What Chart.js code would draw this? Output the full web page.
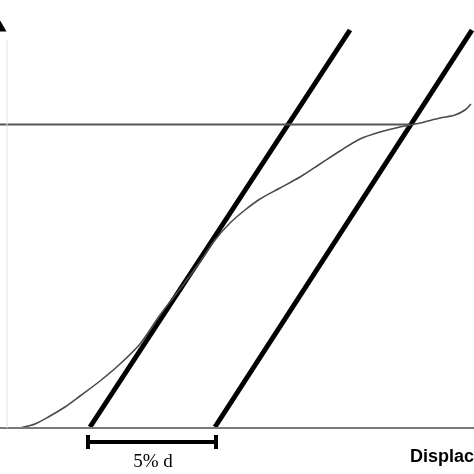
<!DOCTYPE html>
<html>
<head>
<meta charset="utf-8">
<script src="https://cdn.jsdelivr.net/npm/chart.js@4/dist/chart.umd.min.js"></script>
<style>
  html, body { margin: 0; padding: 0; background: #fff; }
  #wrap { width: 474px; height: 474px; }
</style>
</head>
<body>
<div id="wrap"><canvas id="chart" width="474" height="474"></canvas></div>
<script>
/* ---------- data (displacement, load) ---------- */
var CURVE_X = [20, 35, 50, 65, 80, 100, 120, 140, 160, 180, 200, 215, 230, 245, 260, 280, 300, 320, 340, 360, 380, 400, 420, 440, 455, 465, 471];
var CURVE_Y = [0, 4, 12, 21, 32, 47, 64, 84, 113, 139, 166, 188, 205, 218, 229, 240, 251, 264, 277, 289, 296, 301, 305, 310, 313, 318, 324];

var ELASTIC_X = [90, 350];
var ELASTIC_Y = [1, 398];
var OFFSET_X = [215, 472];
var OFFSET_Y = [1, 398];

var LIMIT_X = [0, 410];
var LIMIT_Y = [303.5, 303.5];

var BASE_X = [0, 474];
var BASE_Y = [0, 0];
var YAXIS_X = [7, 7];
var YAXIS_Y = [0, 388];

var BRACKET_X = [88, 88, 88, 216, 216, 216];
var BRACKET_Y = [-7, -21, -14, -14, -7, -21];

var LABELS = [
  { text: "5% d", x: 153, y: -39, font: '19px "Liberation Serif", serif', align: "center" },
  { text: "Displac", x: 410, y: -34, font: 'bold 18px "Liberation Sans", Arial, sans-serif', align: "left" }
];

function pts(xs, ys) {
  return xs.map(function (x, i) { return { x: x, y: ys[i] }; });
}

function line(xs, ys, color, width, extra) {
  var ds = {
    data: pts(xs, ys),
    borderColor: color,
    borderWidth: width,
    pointRadius: 0,
    showLine: true,
    fill: false,
    tension: 0
  };
  for (var k in extra) ds[k] = extra[k];
  return ds;
}

/* ---------- text labels ---------- */
var textPlugin = {
  id: "texts",
  afterDatasetsDraw: function (chart) {
    var ctx = chart.ctx;
    var sx = chart.scales.x, sy = chart.scales.y;
    ctx.save();
    ctx.fillStyle = "#000";
    ctx.textBaseline = "alphabetic";
    LABELS.forEach(function (l) {
      ctx.font = l.font;
      ctx.textAlign = l.align;
      ctx.fillText(l.text, sx.getPixelForValue(l.x), sy.getPixelForValue(l.y));
    });
    ctx.restore();
  }
};

new Chart(document.getElementById("chart"), {
  type: "scatter",
  data: {
    datasets: [
      line(YAXIS_X, YAXIS_Y, "#e2e2e2", 1),
      line(BASE_X, BASE_Y, "#7a7a7a", 2),
      line(LIMIT_X, LIMIT_Y, "#555", 2),
      line(CURVE_X, CURVE_Y, "#4a4a4a", 1.6, { tension: 0.3 }),
      line(ELASTIC_X, ELASTIC_Y, "#000", 5),
      line(OFFSET_X, OFFSET_Y, "#000", 5),
      line(BRACKET_X, BRACKET_Y, "#000", 4),
      {
        data: [{ x: -3, y: 402 }],
        pointStyle: "triangle",
        pointRadius: 11,
        backgroundColor: "#000",
        borderWidth: 0,
        showLine: false,
        clip: false
      }
    ]
  },
  options: {
    responsive: false,
    animation: false,
    devicePixelRatio: 1,
    layout: { padding: 0, autoPadding: false },
    plugins: { legend: { display: false }, tooltip: { enabled: false } },
    elements: { line: { borderCapStyle: "butt" } },
    scales: {
      x: { type: "linear", min: 0, max: 474, display: false },
      y: { type: "linear", min: -46, max: 428, display: false }
    }
  },
  plugins: [textPlugin]
});
</script>
</body>
</html>
